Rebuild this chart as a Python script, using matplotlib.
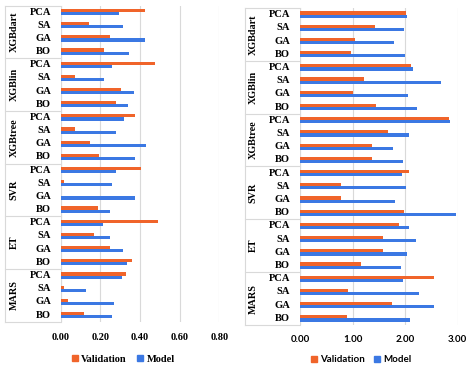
import matplotlib
matplotlib.use("Agg")
import matplotlib.pyplot as plt
from matplotlib.lines import Line2D
import numpy as np

groups = ["XGBdart", "XGBlin", "XGBtree", "SVR", "ET", "MARS"]
methods = ["PCA", "SA", "GA", "BO"]

# Left panel (order: groups top->bottom, methods PCA,SA,GA,BO)
left_validation = [0.427, 0.143, 0.250, 0.220,
                   0.476, 0.072, 0.304, 0.277,
                   0.375, 0.074, 0.150, 0.193,
                   0.407, 0.017, 0.000, 0.190,
                   0.492, 0.170, 0.249, 0.361,
                   0.329, 0.015, 0.037, 0.116]
left_model = [0.294, 0.313, 0.425, 0.343,
              0.259, 0.218, 0.368, 0.341,
              0.321, 0.279, 0.432, 0.373,
              0.279, 0.259, 0.373, 0.250,
              0.213, 0.250, 0.314, 0.333,
              0.309, 0.126, 0.269, 0.259]

right_validation = [2.006, 1.427, 1.045, 0.962,
                    2.108, 1.210, 1.000, 1.446,
                    2.840, 1.670, 1.363, 1.363,
                    2.070, 0.777, 0.770, 1.975,
                    1.880, 1.580, 1.567, 1.153,
                    2.548, 0.904, 1.752, 0.898]
right_model = [2.025, 1.980, 1.783, 2.000,
               2.153, 2.675, 2.050, 2.217,
               2.847, 2.070, 1.770, 1.955,
               1.936, 2.020, 1.796, 2.960,
               2.070, 2.200, 2.025, 1.924,
               1.950, 2.260, 2.548, 2.096]

left_ticks = [0.0, 0.2, 0.4, 0.6, 0.8]
right_ticks = [0.0, 1.0, 2.0, 3.0]

ORANGE = "#F0642A"
BLUE = "#3B78E3"
GRID = "#D9D9D9"

W, H = 474, 370
fig = plt.figure(figsize=(W / 100, H / 100), dpi=100)
serif = ["Liberation Serif", "DejaVu Serif"]
sans = ["Lato", "DejaVu Sans"]


def fx(px):
    return px / W


def fy(py):
    return 1 - py / H


def panel(x0, x1, ytop, ybot, box_left, grp_x, cat_x, val, mod, ticks, xmax,
          tick_font, tick_size, tick_y, legend_font, legend_size, legend_cx, legend_y):
    ax = fig.add_axes([fx(x0), fy(ybot), fx(x1 - x0), (ybot - ytop) / H])
    n = len(val)
    y = np.arange(n)
    h = 0.24
    ax.barh(y - h / 2, val, height=h, color=ORANGE, zorder=3)
    ax.barh(y + h / 2, mod, height=h, color=BLUE, zorder=3)
    ax.set_ylim(n - 0.5, -0.5)
    ax.set_xlim(0, xmax)
    for t in ticks:
        ax.axvline(t, color=GRID, lw=0.8, zorder=1)
    ax.set_xticks([])
    ax.set_yticks([])
    for s in ax.spines.values():
        s.set_visible(False)
    ax.axvline(0, color=GRID, lw=0.8, zorder=2)

    # tick labels
    for t in ticks:
        xp = x0 + (x1 - x0) * t / xmax
        fig.text(fx(xp), fy(tick_y), f"{t:.2f}", ha="center", va="center",
                 fontsize=tick_size, fontweight="bold", family=tick_font)

    # category labels and group box
    step = (ybot - ytop) / n
    for i in range(n):
        yc = ytop + step * (i + 0.5)
        fig.text(fx(cat_x), fy(yc), methods[i % 4], ha="right", va="center",
                 fontsize=7.6, fontweight="bold", family=serif)
    for g, name in enumerate(groups):
        yc = ytop + step * (4 * g + 2)
        fig.text(fx(grp_x), fy(yc), name, ha="center", va="center", rotation=90,
                 fontsize=7.3, fontweight="bold", family=serif)
    for g in range(len(groups) + 1):
        yl = ytop + step * 4 * g
        fig.add_artist(Line2D([fx(box_left), fx(x0)], [fy(yl), fy(yl)],
                              color=GRID, lw=0.8))
    fig.add_artist(Line2D([fx(box_left), fx(box_left)], [fy(ytop), fy(ybot)],
                          color=GRID, lw=0.8))

    handles = [Line2D([], [], marker="s", ls="none", color=ORANGE, markersize=5),
               Line2D([], [], marker="s", ls="none", color=BLUE, markersize=5)]
    fig.legend(handles, ["Validation", "Model"], loc="center",
               bbox_to_anchor=(fx(legend_cx), fy(legend_y)), ncol=2, frameon=False,
               prop={"family": legend_font, "weight": "bold", "size": legend_size},
               handletextpad=0.1, columnspacing=0.8, handlelength=1.0)
    return ax


panel(60.7, 219.3, 5.5, 321.6, 5, 14, 51, left_validation, left_model,
      left_ticks, 0.8, serif, 7.5, 337, serif, 7.5, 122, 359)
panel(300.3, 457.7, 8.0, 325.0, 245, 253, 290, right_validation, right_model,
      right_ticks, 3.0, sans, 7.0, 339, sans, 7.0, 360, 360)

fig.savefig("out.png", dpi=100)
